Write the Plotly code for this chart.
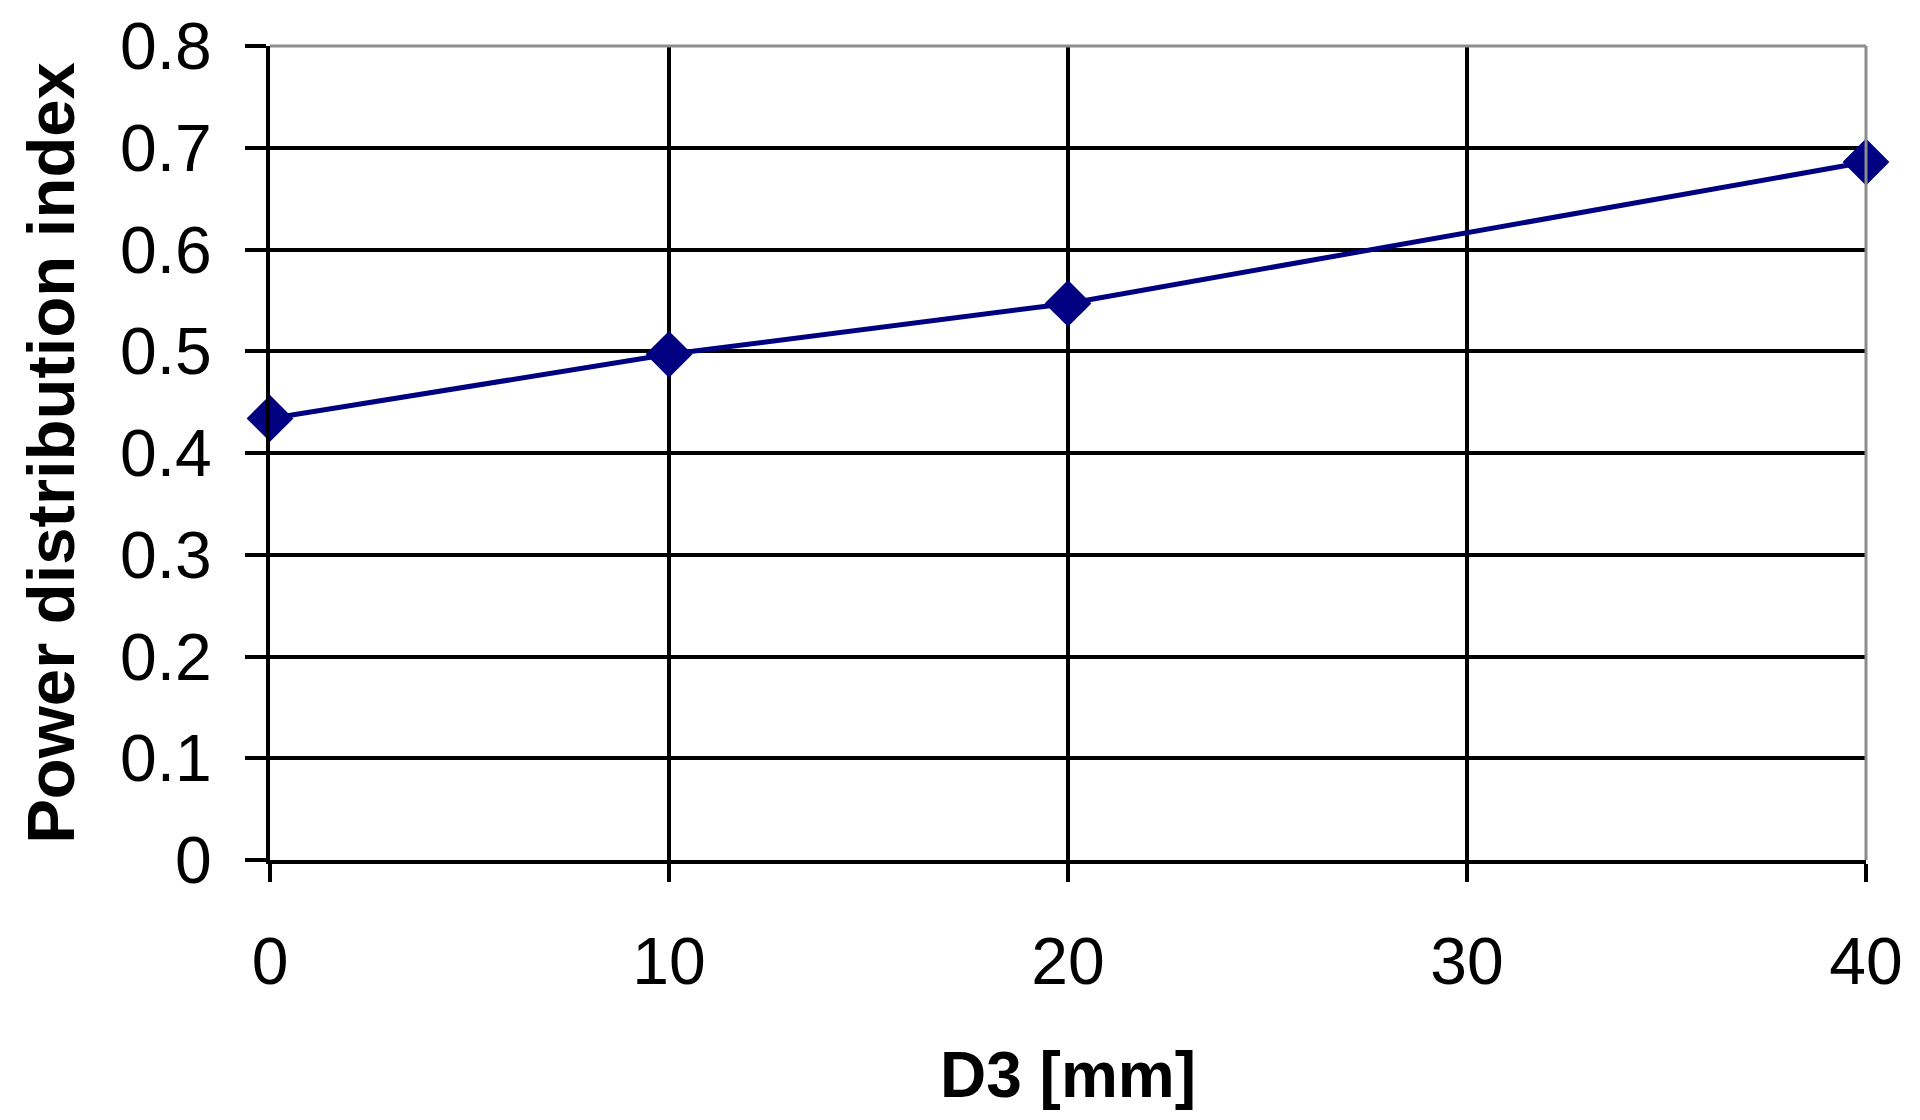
import plotly.graph_objects as go

d3_mm = [0, 10, 20, 40]
power_index = [0.434, 0.497, 0.547, 0.686]

x_ticks = [0, 10, 20, 30, 40]
y_ticks = [0, 0.1, 0.2, 0.3, 0.4, 0.5, 0.6, 0.7, 0.8]
y_labels = ["0", "0.1", "0.2", "0.3", "0.4", "0.5", "0.6", "0.7", "0.8"]

font_name = "Liberation Sans, Arial, sans-serif"
navy = "#000080"

fig = go.Figure()

fig.add_trace(go.Scatter(
    x=d3_mm,
    y=power_index,
    mode="lines+markers",
    line=dict(color=navy, width=5),
    marker=dict(symbol="diamond", size=36, color=navy),
    cliponaxis=False,
    showlegend=False
))

# Rahmen oben/rechts grau wie im Original
fig.add_shape(type="line", xref="x domain", yref="y domain",
              x0=0, x1=1, y0=1, y1=1,
              line=dict(color="#8c8c8c", width=3), layer="above")
fig.add_shape(type="line", xref="x domain", yref="y domain",
              x0=1, x1=1, y0=0, y1=1,
              line=dict(color="#8c8c8c", width=3), layer="above")

fig.update_layout(
    width=1920,
    height=1120,
    margin=dict(l=262, r=62, t=38, b=268),
    paper_bgcolor="white",
    plot_bgcolor="white",
    font=dict(family=font_name, size=66, color="black"),
    xaxis=dict(
        range=[0, 40],
        tickvals=x_ticks,
        showgrid=True, gridcolor="black", gridwidth=4,
        showline=True, linecolor="black", linewidth=4,
        zeroline=False,
        ticks="outside", ticklen=18, tickwidth=4, tickcolor="black",
        ticklabelstandoff=23,
        ticklabeloverflow="allow",
        tickfont=dict(size=66),
        title=dict(text="<b>D3 [mm]</b>", font=dict(size=64), standoff=56),
        automargin=False,
        fixedrange=True
    ),
    yaxis=dict(
        range=[0, 0.8],
        tickvals=y_ticks,
        ticktext=y_labels,
        showgrid=True, gridcolor="black", gridwidth=4,
        showline=True, linecolor="black", linewidth=4,
        zeroline=False,
        ticks="outside", ticklen=21, tickwidth=4, tickcolor="black",
        ticklabelstandoff=20,
        ticklabeloverflow="allow",
        tickfont=dict(size=66),
        title=dict(text="<b>Power distribution index</b>", font=dict(size=67), standoff=25),
        automargin=False,
        fixedrange=True
    )
)

fig.write_html("out.html")
